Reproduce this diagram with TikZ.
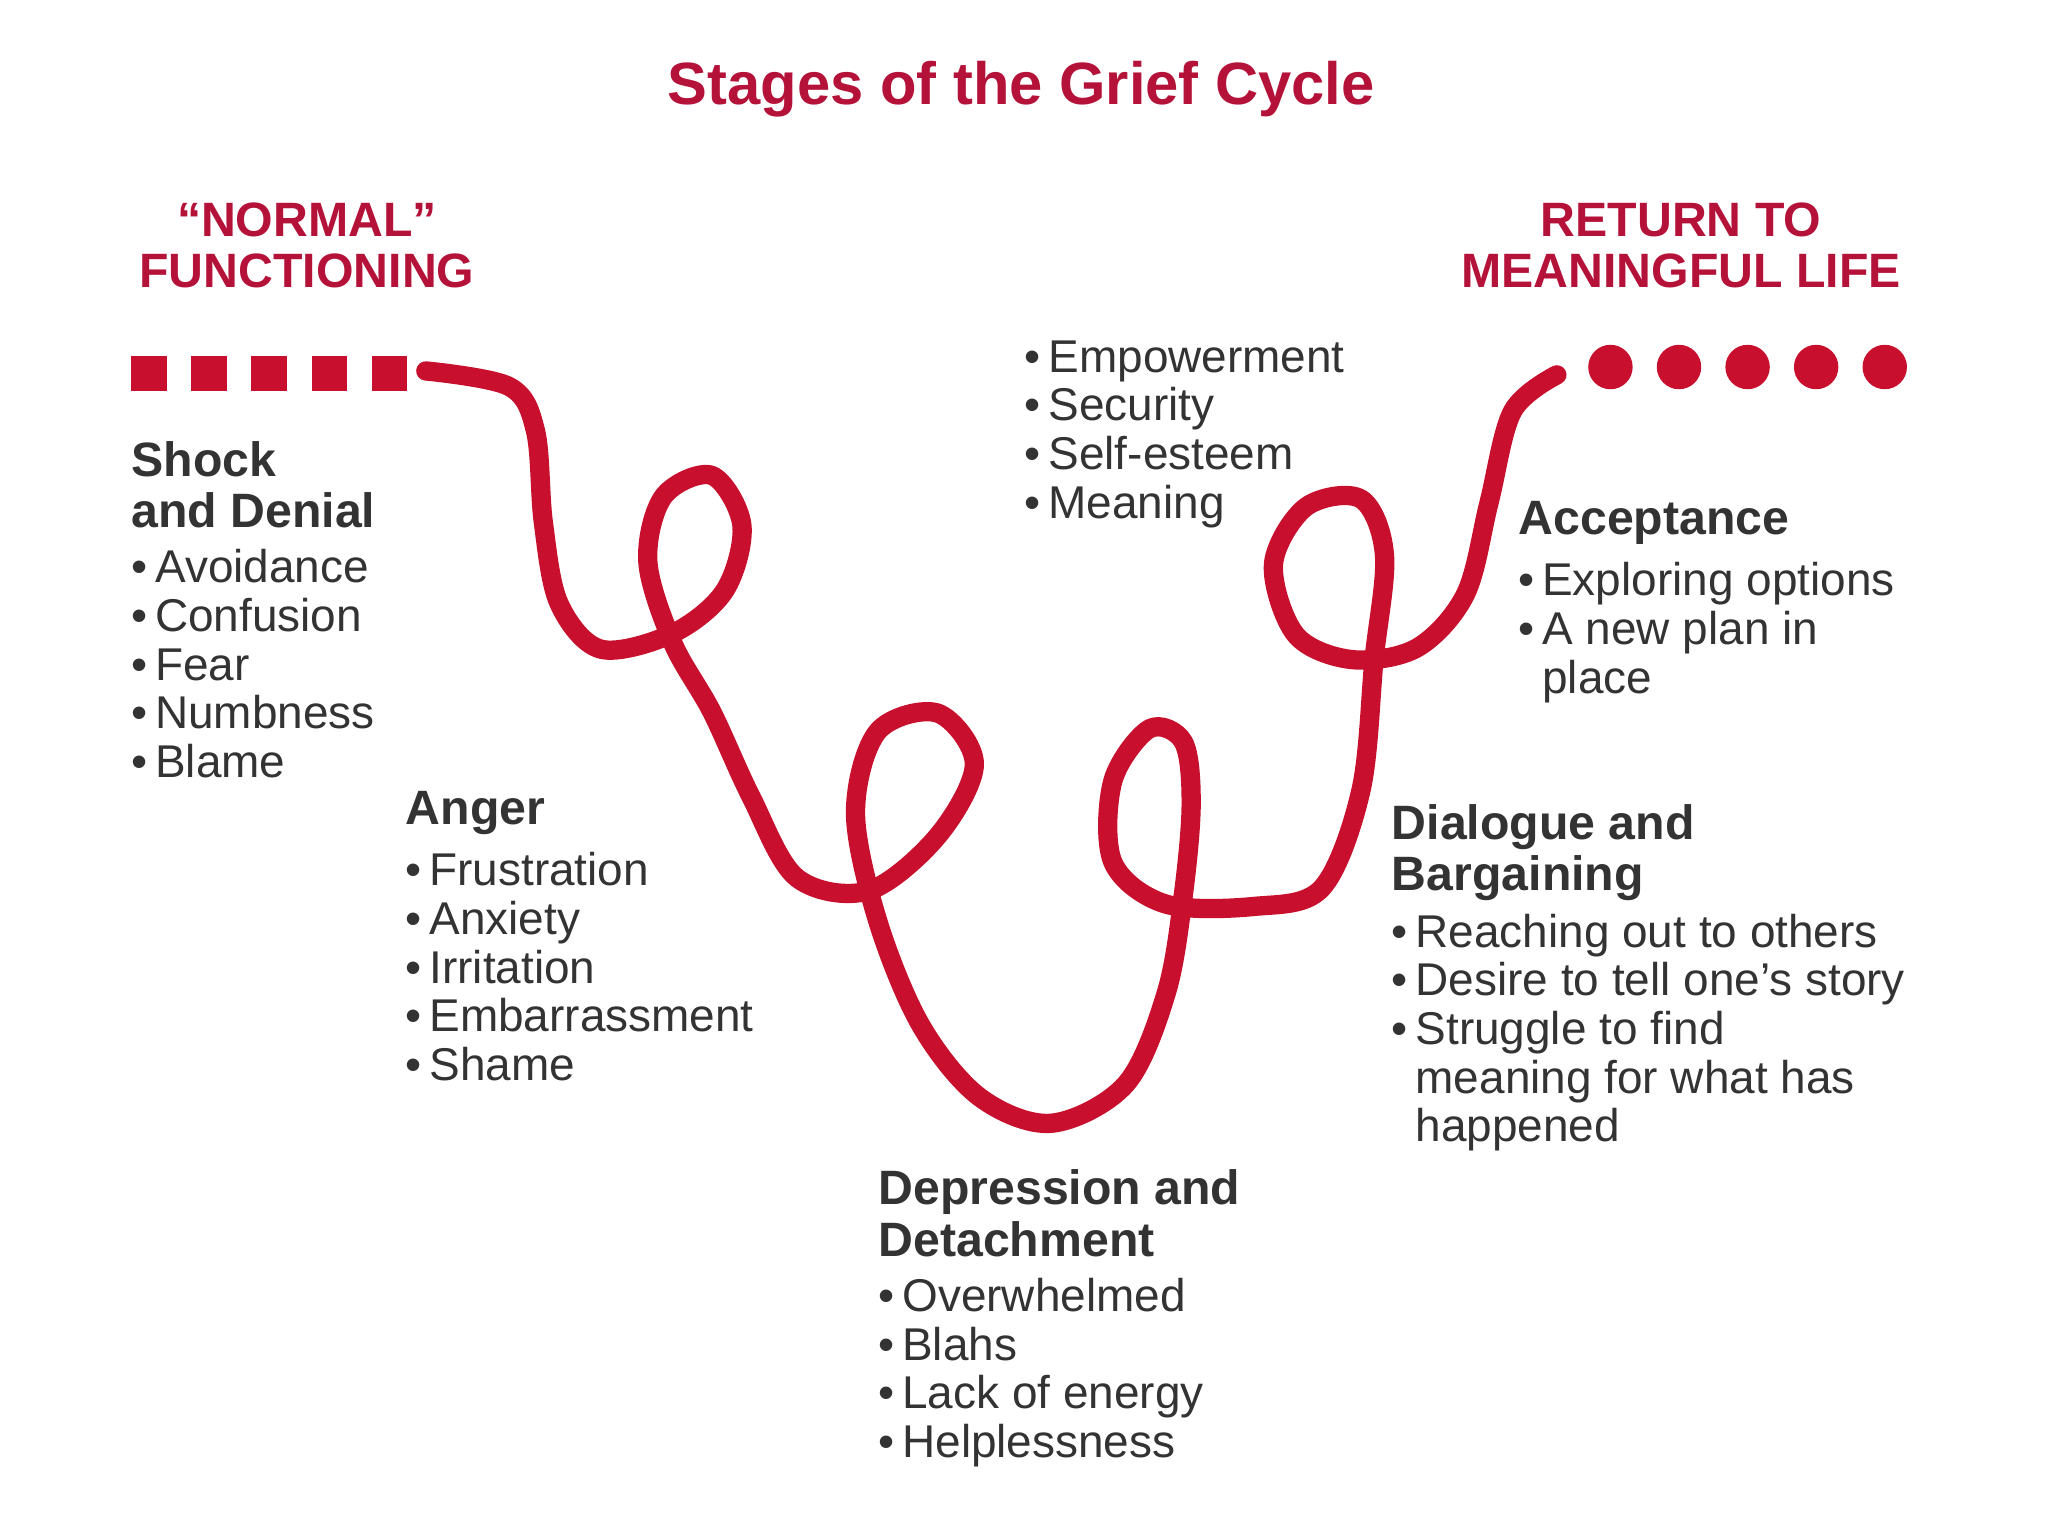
\documentclass[tikz,border=0pt]{standalone}
\usepackage{fontspec}
\setmainfont{Liberation Sans}
\definecolor{gred}{HTML}{C8102E}
\definecolor{tred}{HTML}{B5123A}
\definecolor{tgray}{HTML}{333333}
\tikzset{
  txt/.style={anchor=north west,align=left,inner sep=0pt,text=tgray,font=\fontsize{10}{10.6}\selectfont},
  head/.style={anchor=center,align=center,inner sep=0pt,text=tred,font=\bfseries\fontsize{10.5}{11.2}\selectfont},
  ribbon/.style={draw=gred,line width=4.2pt,line cap=round,line join=round},
  sq/.style={fill=gred,draw=none,minimum size=0.27cm,inner sep=0pt},
  dot/.style={circle,fill=gred,draw=none,minimum size=0.34cm,inner sep=0pt}
}
\newcommand{\bl}{\textbullet\,}
\newcommand{\hb}{\hphantom{\textbullet\,}}
\begin{document}
\begin{tikzpicture}[x=0.01cm,y=-0.01cm]
\useasboundingbox (0,0) rectangle (1568,1176);
\fill[white] (0,0) rectangle (1568,1176);
\node[head,font=\bfseries\fontsize{13}{14}\selectfont] (title) at (782,68) {Stages of the Grief Cycle};
\node[head] (normal) at (235,188) {“NORMAL”\\FUNCTIONING};
\node[head] (ret) at (1287,188) {RETURN TO\\MEANINGFUL LIFE};
\foreach \i in {0,...,4} \node[sq] (s\i) at (114+46*\i,286) {};
\foreach \i in {0,...,4} \node[dot] (c\i) at (1233+52.5*\i,281) {};
\draw[ribbon] plot[smooth,tension=0.55] coordinates {
(326,284)(390,296)(410,330)(416,400)(428,462)(460,497)(515,485)(555,452)(568,402)(545,364)(508,380)(496,430)(515,492)(545,545)(575,610)(610,672)(665,682)(718,640)(746,585)(718,546)(672,560)(655,622)(672,705)(705,785)(750,840)(805,860)(862,830)(893,760)(906,685)(912,615)(906,568)(880,558)(852,598)(852,660)(892,692)(960,694)(1012,680)(1042,605)(1052,505)(1060,425)(1042,382)(1000,388)(975,432)(992,486)(1035,505)(1085,496)(1122,455)(1140,385)(1158,315)(1192,287)};
\node[txt,font=\bfseries\fontsize{10.5}{11.2}\selectfont] (sh) at (100,337) {Shock\\and Denial};
\node[txt] (shl) at (100,420) {\bl Avoidance\\\bl Confusion\\\bl Fear\\\bl Numbness\\\bl Blame};
\node[txt,font=\bfseries\fontsize{10.5}{11.2}\selectfont] (an) at (310,605) {Anger};
\node[txt] (anl) at (310,652) {\bl Frustration\\\bl Anxiety\\\bl Irritation\\\bl Embarrassment\\\bl Shame};
\node[txt,font=\bfseries\fontsize{10.5}{11.2}\selectfont] (de) at (672,895) {Depression and\\Detachment};
\node[txt] (del) at (672,978) {\bl Overwhelmed\\\bl Blahs\\\bl Lack of energy\\\bl Helplessness};
\node[txt,font=\bfseries\fontsize{10.5}{11.2}\selectfont] (di) at (1065,615) {Dialogue and\\Bargaining};
\node[txt] (dil) at (1065,699) {\bl Reaching out to others\\\bl Desire to tell one’s story\\\bl Struggle to find\\\hb meaning for what has\\\hb happened};
\node[txt,font=\bfseries\fontsize{10.5}{11.2}\selectfont] (ac) at (1162,383) {Acceptance};
\node[txt] (acl) at (1162,430) {\bl Exploring options\\\bl A new plan in\\\hb place};
\node[txt] (em) at (784,260) {\bl Empowerment\\\bl Security\\\bl Self-esteem\\\bl Meaning};
\end{tikzpicture}
\end{document}
